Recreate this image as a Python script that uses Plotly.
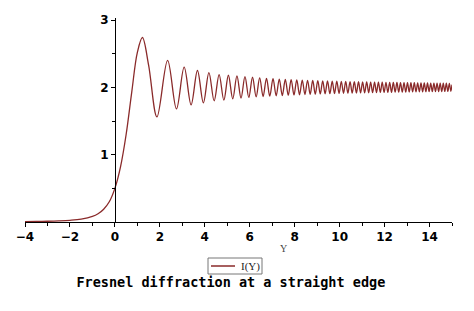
import plotly.graph_objects as go

# Rising part (Y < first maximum)
rise_x = [-4.0, -3.5, -3.0, -2.5, -2.0, -1.5, -1.0, -0.75, -0.5, -0.25, 0.0, 0.25, 0.5, 0.75, 1.0]
rise_y = [0.006, 0.008, 0.011, 0.016, 0.025, 0.042, 0.082, 0.122, 0.19, 0.30, 0.50, 0.82, 1.30, 1.93, 2.52]

# Successive maxima / minima of the oscillating part
ext_x = [1.225, 1.5, 1.871, 2.345, 2.739, 3.082, 3.391, 3.674, 3.937, 4.183, 4.416, 4.637, 4.848,
         5.050, 5.244, 5.431, 5.612, 5.788, 5.958, 6.124, 6.285, 6.442, 6.595, 6.745, 6.892,
         7.036, 7.176, 7.314, 7.450, 7.583, 7.714, 7.842, 7.969, 8.093, 8.216, 8.337, 8.456,
         8.573, 8.689, 8.803, 8.916, 9.028, 9.138, 9.247, 9.354, 9.460, 9.566, 9.670, 9.772,
         9.874, 9.975, 10.075, 10.173, 10.271, 10.368, 10.464, 10.559, 10.654, 10.747, 10.840,
         10.932, 11.023, 11.113, 11.203, 11.292, 11.380, 11.467, 11.554, 11.640, 11.726, 11.811,
         11.895, 11.979, 12.062, 12.145, 12.227, 12.309, 12.390, 12.470, 12.550, 12.629, 12.708,
         12.787, 12.865, 12.942, 13.019, 13.096, 13.172, 13.248, 13.323, 13.398, 13.472, 13.546,
         13.620, 13.693, 13.766, 13.838, 13.910, 13.982, 14.053, 14.124, 14.195, 14.265, 14.335,
         14.405, 14.474, 14.543, 14.612, 14.680, 14.748, 14.816, 14.883, 14.950, 15.0]
ext_y = [2.74, 2.33, 1.56, 2.40, 1.68, 2.30, 1.74, 2.25, 1.77, 2.22, 1.80, 2.19, 1.81,
         2.18, 1.83, 2.17, 1.84, 2.16, 1.85, 2.15, 1.86, 2.14, 1.864, 2.133, 1.869,
         2.128, 1.875, 2.123, 1.879, 2.119, 1.883, 2.115, 1.887, 2.111, 1.890, 2.108, 1.894,
         2.105, 1.896, 2.102, 1.899, 2.100, 1.902, 2.097, 1.904, 2.095, 1.906, 2.093, 1.908,
         2.091, 1.910, 2.089, 1.912, 2.088, 1.913, 2.086, 1.915, 2.084, 1.916, 2.083,
         1.918, 2.082, 1.919, 2.080, 1.920, 2.079, 1.922, 2.078, 1.923, 2.077, 1.924,
         2.076, 1.925, 2.075, 1.926, 2.074, 1.927, 2.073, 1.928, 2.072, 1.929, 2.071,
         1.930, 2.070, 1.930, 2.069, 1.931, 2.068, 1.932, 2.068, 1.933, 2.067, 1.934,
         2.066, 1.934, 2.065, 1.935, 2.065, 1.936, 2.064, 1.936, 2.063, 1.937, 2.063,
         1.938, 2.062, 1.938, 2.062, 1.939, 2.061, 1.939, 2.060, 1.940, 2.04]

x_ticks = [-4, -2, 0, 2, 4, 6, 8, 10, 12, 14]
y_ticks = [1, 2, 3]
series_name = "I(Y)"
line_color = "#8a2a2a"

xs = rise_x + ext_x
ys = rise_y + ext_y

fig = go.Figure()
fig.add_trace(go.Scatter(
    x=xs, y=ys, mode="lines", name=series_name, showlegend=False,
    line=dict(color=line_color, width=1.3, shape="spline", smoothing=1.0),
))

tick_font = dict(family="DejaVu Sans", size=12, color="black", weight="bold")

# plot area in pixels: left 25, right 452, top 18, bottom 222
def px(xp):
    return (xp - 25) / 427.0

def py(yp):
    return (222 - yp) / 204.0

fig.update_layout(
    width=474, height=311,
    margin=dict(l=25, r=22, t=18, b=89),
    plot_bgcolor="white", paper_bgcolor="white",
    showlegend=False,
    title=dict(
        text="Fresnel diffraction at a straight edge",
        x=0.487, xanchor="center", y=0.093, yanchor="middle",
        xref="container", yref="container",
        font=dict(family="DejaVu Sans Mono", size=13.5, color="black", weight="bold"),
    ),
    xaxis=dict(
        range=[-4, 15], tickvals=x_ticks,
        ticktext=[("\u2212" + str(-t)) if t < 0 else str(t) for t in x_ticks],
        showgrid=False, zeroline=False, showline=True, linecolor="black", linewidth=1,
        ticks="outside", ticklen=4, tickcolor="black",
        minor=dict(dtick=1, tick0=-4, ticks="outside", ticklen=3, tickcolor="black"),
        tickfont=tick_font,
    ),
    yaxis=dict(
        range=[0, 3.03], tickvals=y_ticks,
        showgrid=False, zeroline=False, showline=True, linecolor="black", linewidth=1,
        ticks="outside", ticklen=4, tickcolor="black",
        minor=dict(dtick=0.5, tick0=0, ticks="outside", ticklen=3, tickcolor="black"),
        tickfont=tick_font,
        anchor="free", position=4 / 19,
    ),
    shapes=[
        # legend box
        dict(type="rect", xref="paper", yref="paper",
             x0=px(208), x1=px(262), y0=py(274), y1=py(258),
             line=dict(color="#777", width=1), fillcolor="white"),
        # legend line sample
        dict(type="line", xref="paper", yref="paper",
             x0=px(211), x1=px(235), y0=py(266), y1=py(266),
             line=dict(color=line_color, width=1.5)),
    ],
    annotations=[
        dict(text="Y", x=7.5, xref="x", y=py(248), yref="paper",
             showarrow=False, xanchor="center", yanchor="middle",
             font=dict(family="Liberation Serif", size=10, color="#444")),
        dict(text=series_name, x=px(239), xref="paper", y=py(266), yref="paper",
             showarrow=False, xanchor="left", yanchor="middle",
             font=dict(family="Liberation Serif", size=11, color="#222")),
    ],
)

fig.write_html("out.html")
